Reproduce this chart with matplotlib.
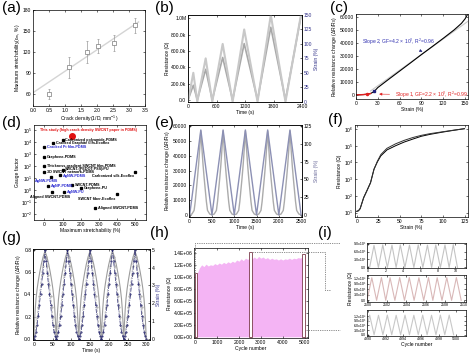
import matplotlib
matplotlib.use("Agg")
import matplotlib.pyplot as plt
import numpy as np
from matplotlib.lines import Line2D
from matplotlib.patches import Rectangle

plt.rcParams["font.family"] = ["Liberation Sans", "DejaVu Sans"]
plt.rcParams["mathtext.default"] = "regular"

# ── (a) crack density vs stretchability ───────────────────────────
crack_density = [0.5, 1.12, 1.68, 2.03, 2.54, 3.2]
max_strain = [60, 98, 120, 128, 133, 158]
max_strain_err = [7, 15, 16, 10, 12, 11]
fit_a_x = [0.0, 3.3]
fit_a_y = [62, 163]

# ── (b) stepwise cycling ──────────────────────────────────────────
b_time = [0, 112, 196, 372, 511, 730, 939, 1183, 1464, 1743, 2052, 2380]
b_strain = [0, 50, 0, 75, 0, 100, 0, 125, 0, 150, 0, 151]
b_res = [0, 0.18e6, 0, 0.375e6, 0, 0.52e6, 0, 0.69e6, 0, 0.89e6, 0, 1.03e6]
b_ytick_labels = ["0.0", "200.0k", "400.0k", "600.0k", "800.0k", "1.0M"]

# ── (c) dR/R0 vs strain ───────────────────────────────────────────
c_strain = [0, 5, 10, 15, 20, 25, 30, 45, 60, 75, 90, 105, 120, 135, 145, 150, 153]
c_drr = [0, 60, 200, 450, 1000, 2600, 5600, 12000, 18300, 24600, 31000,
         37200, 43500, 50000, 55000, 58500, 61500]
c_fit2_x = [20, 155]
c_fit2_y = [3000, 57000]

# ── (d) gauge factor vs stretchability (literature) ───────────────
d_names = ["Carbonized polyamide-PDMS", "Cracked Graphite film-Ecoflex",
           "Cracked Pt film-PDMS", "Graphene-PDMS",
           "Thickness-gradient SWCNT film-PDMS", "SWCNT-(PEDOT:PSS)/PU",
           "3D SWCNT network-PDMS", "Carbonized silk-Ecoflex", "AgNW-PDMS",
           "AgNW-PDMS", "AgNP-PDMS", "SWCNT-PDMS", "Graphene-PU", "AgNW-PU",
           "Aligned SWCNT-PDMS", "SWCNT fiber-Ecoflex", "Aligned SWCNT-PDMS"]
d_stretch = [100, 50, 0, 0, 0, 100, 0, 500, 87, 36, 20, 150, 200, 110, 40, 400, 280]
d_gf = [1.55e4, 8.3e3, 4.0e3, 630, 112, 50, 32, 37, 19, 14, 2.1, 3.0, 1.6,
        0.72, 0.72, 0.5, 0.035]
d_metal = [0, 0, 1, 0, 0, 0, 0, 0, 1, 1, 1, 0, 0, 1, 0, 0, 0]
this_stretch = 150
this_gf = 3.2e4

# ── (e) cycling to 120 % ──────────────────────────────────────────
e_cycle_start = [0, 500, 1000, 1500, 2000]
e_half_t = [0, 50, 100, 125, 150, 175, 200, 225, 250]
e_half_drr = [0, 500, 3000, 9000, 17000, 25000, 34000, 45000, 57000]
e_strain_time = [0, 250, 500, 750, 1000, 1250, 1500, 1750, 2000, 2250, 2500]
e_strain = [0, 120, 0, 120, 0, 120, 0, 120, 0, 120, 0]

# ── (f) resistance vs strain, log ─────────────────────────────────
f_strain = [0, 2, 4, 8, 12, 16, 20, 24, 28, 35, 45, 55, 65, 75, 85, 100, 112, 125]
f_res_1 = [12, 13, 18, 80, 220, 630, 4000, 11000, 25000, 56000, 100000,
           166000, 250000, 370000, 480000, 660000, 830000, 1.05e6]
f_res_2 = [12, 13, 17, 75, 210, 600, 3800, 12000, 30000, 70000, 130000,
           210000, 310000, 420000, 530000, 690000, 850000, 1.05e6]

# ── (g) small strain cycling ──────────────────────────────────────
g_cycle_start = [0, 60, 120, 180, 240]
g_half_t = [0, 2, 4, 6, 9, 12, 16, 20, 25, 30]
g_half_drr = [0, 0.15, 0.27, 0.36, 0.45, 0.52, 0.6, 0.67, 0.74, 0.79]
g_half_t2 = [0, 3, 6, 9, 12, 15, 18, 21, 24, 27, 30]
g_half_strain = [0, 0.15, 0.4, 0.8, 1.3, 1.9, 2.5, 3.1, 3.7, 4.35, 5.0]
g_half_mid = [0, 0.3, 0.7, 1.2, 1.8, 2.4, 3.0, 3.6, 4.1, 4.6, 5.0]

# ── (h) 5000 cycles ───────────────────────────────────────────────
h_cycles = list(range(100, 5001, 100))
h_env = [1.06, 1.15, 1.20, 1.17, 1.21, 1.18, 1.20, 1.19, 1.22, 1.20,
         1.23, 1.21, 1.24, 1.22, 1.25, 1.23, 1.26, 1.24, 1.28, 1.26,
         1.30, 1.27, 1.31, 1.29, 1.32, 1.30, 1.33, 1.30, 1.34, 1.31,
         1.33, 1.30, 1.32, 1.29, 1.31, 1.29, 1.30, 1.28, 1.30, 1.28,
         1.30, 1.29, 1.31, 1.29, 1.31, 1.30, 1.32, 1.31, 1.33, 1.32]
h_boxes = [(0, 100, 1.07e6), (2450, 2600, 1.42e6), (4880, 5020, 1.38e6)]
h_ytick_labels = ["0.0E+00", "2.0E+05", "4.0E+05", "6.0E+05", "8.0E+05",
                  "1.0E+06", "1.2E+06", "1.4E+06"]

# ── (i) zoomed cycles ─────────────────────────────────────────────
i1_peak_x = [0.7, 1.7, 2.75, 3.7, 4.75, 5.75, 6.8, 7.75, 8.8, 9.75]
i1_peak_y = [8.3e5, 8.5e5, 8.4e5, 8.5e5, 8.4e5, 8.5e5, 8.4e5, 8.5e5, 8.5e5, 8.6e5]
i2_peak_x = [2500.4, 2501.4, 2502.3, 2503.3, 2504.3, 2505.3, 2506.3, 2507.2, 2508.2, 2509.2]
i2_peak_y = [1.24e6, 1.25e6, 1.24e6, 1.25e6, 1.25e6, 1.24e6, 1.25e6, 1.24e6, 1.25e6, 1.25e6]
i3_peak_x = [4990.2, 4991.2, 4992.2, 4993.2, 4994.2, 4995.2, 4996.2, 4997.2, 4998.2, 4999.2]
i3_peak_y = [1.27e6, 1.26e6, 1.27e6, 1.26e6, 1.27e6, 1.26e6, 1.27e6, 1.26e6, 1.27e6, 1.27e6]
i1_ytick_labels = ["0.0", "3.0x10⁵", "6.0x10⁵", "9.0x10⁵"]
i23_ytick_labels = ["0.0", "3.0x10⁵", "6.0x10⁵", "9.0x10⁵", "1.2x10⁶"]

W, H = 474, 355
TS = 3.6
BLUE = "#34348a"
fig = plt.figure(figsize=(W / 100, H / 100), dpi=100)


def px_axes(l, t, r, b):
    return fig.add_axes([l / W, 1 - b / H, (r - l) / W, (b - t) / H])


def style(ax, top=True, right=True, size=TS):
    ax.tick_params(direction="in", length=1.5, width=0.4, labelsize=size,
                   pad=1.2, top=top, right=right)
    for s in ax.spines.values():
        s.set_linewidth(0.5)


def cycles(starts, half_t, half_v):
    t, v = [], []
    span = 2 * half_t[-1]
    for s in starts:
        t += [s + x for x in half_t] + [s + span - x for x in half_t[-2::-1]]
        v += list(half_v) + list(half_v[-2::-1])
    return t, v


def peaks_to_wave(px, py):
    xs, ys = [px[0] - (px[1] - px[0]) / 2], [0]
    for k in range(len(px)):
        xs.append(px[k]); ys.append(py[k])
        nxt = px[k + 1] if k + 1 < len(px) else px[k] + (px[k] - px[k - 1])
        xs.append((px[k] + nxt) / 2); ys.append(0)
    return xs, ys


def panel(x, y, s):
    fig.text(x / W, 1 - y / H, s, fontsize=11, va="top", ha="left")


# (a)
ax = px_axes(33, 10, 145, 106)
ax.plot(fit_a_x, fit_a_y, color="#d4d4d4", lw=1.0)
ax.errorbar(crack_density, max_strain, yerr=max_strain_err, fmt="s", ms=3,
            mfc="white", mec="#7a7a7a", mew=0.5, ecolor="#9a9a9a",
            elinewidth=0.5, capsize=1)
ax.set_xlim(0, 3.5)
ax.set_ylim(43, 180)
ax.set_xticks(np.arange(0, 3.6, 0.5))
ax.set_yticks([60, 90, 120, 150, 180])
ax.set_xlabel("Crack density(1/D, mm$^{-1}$)", fontsize=TS, labelpad=1)
ax.set_ylabel("Maximum stretchability(ε$_m$, %)", fontsize=TS, labelpad=1)
style(ax)
panel(2, 1, "(a)")

# (b)
ax = px_axes(188, 15, 302, 102)
ax.plot(b_time, b_res, color="#a8a8a8", lw=1.2)
ax2 = ax.twinx()
ax2.plot(b_time, b_strain, color="#c8c8c8", lw=1.5)
ax.set_xlim(0, 2400)
ax.set_ylim(-0.025e6, 1.04e6)
ax2.set_ylim(-0.5, 150)
ax.set_xticks([0, 600, 1200, 1800, 2400])
ax.set_yticks([0, 2e5, 4e5, 6e5, 8e5, 1e6])
ax.set_yticklabels(b_ytick_labels)
ax2.set_yticks([0, 25, 50, 75, 100, 125, 150])
ax.set_xlabel("Time (s)", fontsize=TS, labelpad=1)
ax.set_ylabel("Resistance (Ω)", fontsize=TS, labelpad=1)
ax2.set_ylabel("Strain (%)", fontsize=TS, color=BLUE, labelpad=1)
style(ax, right=False)
style(ax2, top=False)
ax2.tick_params(axis="y", labelcolor=BLUE)
panel(155, 1, "(b)")

# (c)
ax = px_axes(356, 14, 468, 99)
ax.plot(c_fit2_x, c_fit2_y, color="#c8c8c8", lw=0.8)
ax.plot(c_strain, c_drr, color="black", lw=0.8)
ax.plot(c_strain[:5], c_drr[:5], color="#e02020", lw=1.0)
ax.plot([c_strain[3]], [c_drr[3]], "o", color="#e02020", ms=1.5)
ax.plot([c_strain[5]], [c_drr[5]], "s", color="#20207a", ms=1.5)
ax.annotate("Slope 2, GF=4.2 × 10$^2$, R$^2$=0.96", xy=(95, 32500),
            xytext=(58, 40500), fontsize=TS, color="#3030b0", ha="center",
            va="center", arrowprops=dict(arrowstyle="-|>", color="#20207a",
                                         lw=0.4, mutation_scale=4))
ax.annotate("Slope 1, GF=2.2 × 10$^2$, R$^2$=0.99", xy=(28, 600),
            xytext=(104, 0), fontsize=TS, color="#e02020", ha="center",
            va="center", arrowprops=dict(arrowstyle="-|>", color="#e02020",
                                         lw=0.4, mutation_scale=4))
ax.set_xlim(0, 154)
ax.set_ylim(-3200, 62200)
ax.set_xticks([0, 30, 60, 90, 120, 150])
ax.set_yticks(np.arange(0, 60001, 10000))
ax.set_xlabel("Strain (%)", fontsize=TS, labelpad=1)
ax.set_ylabel("Relative resistance change (ΔR/R$_0$)", fontsize=TS, labelpad=1)
style(ax)
panel(330, 1, "(c)")

# (d)
ax = px_axes(34, 125, 146, 220)
d_label_place = [(2, 0, "left"), (2, 0, "left"), (2, 0, "left"),
                 (2, 0, "left"), (2, 0, "left"), (2, 1.0, "left"),
                 (2, 0, "left"), (-1, -3, "right"), (2, -1.0, "left"),
                 (5, -3.5, "right"), (2, 0, "left"), (2, 0, "left"),
                 (2, 0, "left"), (2, 0, "left"), (-1, -3.5, "center"),
                 (-1, -3.5, "right"), (2, 0, "left")]
for k in range(len(d_names)):
    ax.plot(d_stretch[k], d_gf[k], "s", color="black", ms=1.4)
    dx, dy, ha = d_label_place[k]
    ax.annotate(d_names[k], (d_stretch[k], d_gf[k]), xytext=(dx, dy),
                textcoords="offset points", fontsize=2.7, fontweight="bold",
                ha=ha, va="center", color="#2a2ad0" if d_metal[k] else "black")
ax.plot(this_stretch, this_gf, "o", color="#e01010", ms=4)
ax.text(240, 1.0e5, "This study (high crack density SWCNT paper in PDMS)",
        fontsize=2.7, fontweight="bold", color="#e01010", ha="center", va="center")
ax.set_yscale("log")
ax.set_xlim(-57, 558)
ax.set_ylim(10 ** -2.47, 10 ** 5.44)
ax.set_xticks([0, 100, 200, 300, 400, 500])
ax.set_yticks([10.0 ** p for p in range(-2, 6)])
ax.minorticks_off()
ax.set_xlabel("Maximum stretchability (%)", fontsize=TS, labelpad=1)
ax.set_ylabel("Gauge factor", fontsize=TS, labelpad=1)
style(ax)
panel(2, 116, "(d)")

# (e)
ax = px_axes(189, 125, 302, 217)
e_t, e_v = cycles(e_cycle_start, e_half_t, e_half_drr)
ax.plot(e_t, e_v, color="#ababab", lw=1.0)
ax2 = ax.twinx()
ax2.plot(e_strain_time, e_strain, color="#8c90b4", lw=1.0)
ax.set_xlim(-15, 2520)
ax.set_ylim(-1500, 61000)
ax2.set_ylim(-3, 127)
ax.set_xticks([0, 500, 1000, 1500, 2000, 2500])
ax.set_yticks(np.arange(0, 60001, 10000))
ax2.set_yticks([0, 25, 50, 75, 100, 125])
ax.set_xlabel("Time (s)", fontsize=TS, labelpad=1)
ax.set_ylabel("Relative resistance change (ΔR/R$_0$)", fontsize=TS, labelpad=1)
ax2.set_ylabel("Strain (%)", fontsize=TS, color="#6a6a9a", labelpad=1)
style(ax, right=False)
style(ax2, top=False)
panel(155, 116, "(e)")

# (f)
ax = px_axes(355, 125, 468, 217)
ax.plot(f_strain, f_res_1, color="black", lw=0.7)
ax.plot(f_strain, f_res_2, color="#333333", lw=0.7)
ax.set_yscale("log")
ax.set_xlim(-2, 129)
ax.set_ylim(5.5, 1.74e6)
ax.set_xticks([0, 25, 50, 75, 100, 125])
ax.set_yticks([10.0 ** p for p in range(1, 7)])
ax.minorticks_off()
ax.set_xlabel("Strain (%)", fontsize=TS, labelpad=1)
ax.set_ylabel("Resistance (Ω)", fontsize=TS, labelpad=1)
style(ax)
panel(328, 113, "(f)")

# (g)
ax = px_axes(33, 249, 150, 340)
g_t, g_v = cycles(g_cycle_start, g_half_t, g_half_drr)
ax.plot(g_t, g_v, color="#9c9c9c", lw=0.8)
ax2 = ax.twinx()
g_t2, g_s = cycles(g_cycle_start, g_half_t2, g_half_strain)
g_t3, g_m = cycles(g_cycle_start, g_half_t2, g_half_mid)
ax2.plot(g_t3, g_m, color="#b0b0b0", lw=0.5, ls="--", marker=".", ms=1.2)
ax2.plot(g_t2, g_s, color="#2a2a70", lw=0.5, ls="-.", marker=".", ms=1.0)
ax.set_xlim(-2, 310)
ax.set_ylim(-0.012, 0.81)
ax2.set_ylim(-0.07, 5.05)
ax.set_xticks([0, 50, 100, 150, 200, 250, 300])
ax.set_yticks([0.0, 0.2, 0.4, 0.6, 0.8])
ax2.set_yticks([0, 1, 2, 3, 4, 5])
ax.set_xlabel("Time (s)", fontsize=TS, labelpad=1)
ax.set_ylabel("Relative resistance change (ΔR/R$_0$)", fontsize=TS, labelpad=1)
ax2.set_ylabel("Strain (%)", fontsize=TS, color=BLUE, labelpad=1)
style(ax, right=False)
style(ax2, top=False)
panel(2, 231, "(g)")

# (h)
ax = px_axes(194, 248, 308, 338)
ax.fill_between(h_cycles, 0, [v * 1e6 for v in h_env], color="#f4b4f4", lw=0)
for x0, x1, top in h_boxes:
    ax.add_patch(Rectangle((x0, 0), x1 - x0, top, fc="white", ec="#7a3a4a",
                           lw=0.6, zorder=3))
ax.set_xlim(-50, 5150)
ax.set_ylim(-0.02e6, 1.48e6)
ax.set_xticks([0, 1000, 2000, 3000, 4000, 5000])
ax.set_yticks(np.arange(0, 1.41e6, 2e5))
ax.set_yticklabels(h_ytick_labels)
ax.set_xlabel("Cycle number", fontsize=TS, labelpad=1)
ax.set_ylabel("Resistance (Ω)", fontsize=TS, labelpad=1)
style(ax)
panel(150, 226, "(h)")

# (i)
i_specs = [((367, 243, 466, 268), i1_peak_x, i1_peak_y, (-0.1, 11.2),
            (-0.2e5, 9.2e5), [0, 2, 4, 6, 8, 10], i1_ytick_labels, "#c4c4c4"),
           ((367, 275, 466, 302), i2_peak_x, i2_peak_y, (2499.9, 2510.2),
            (-0.09e6, 1.39e6), [2500, 2502, 2504, 2506, 2508, 2510],
            i23_ytick_labels, "#d9b8b8"),
           ((367, 310, 466, 336), i3_peak_x, i3_peak_y, (4989.9, 5001.1),
            (-0.08e6, 1.6e6), [4990, 4992, 4994, 4996, 4998, 5000],
            i23_ytick_labels, "#c8c8c8")]
for n, (rect, px, py, xl, yl, xt, ytl, col) in enumerate(i_specs):
    ax = px_axes(*rect)
    wx, wy = peaks_to_wave(px, py)
    ax.plot(wx, wy, color=col, lw=0.8)
    ax.set_xlim(*xl)
    ax.set_ylim(*yl)
    ax.set_xticks(xt)
    ax.set_yticks([0, 3e5, 6e5, 9e5, 1.2e6][:len(ytl)])
    ax.set_yticklabels(ytl)
    style(ax, size=2.6)
    ax.tick_params(pad=0.8)
    if n == 1:
        ax.set_ylabel("Resistance (Ω)", fontsize=TS, labelpad=0.5)
    if n == 2:
        ax.set_xlabel("Cycle number", fontsize=TS, labelpad=0.5)
panel(318, 226, "(i)")

# dashed connectors from (h) boxes to (i)
for pts in [[(195, 273), (195, 243), (340, 243)],
            [(252, 252), (325, 252), (325, 290), (330, 290)],
            [(306, 330), (340, 330)]]:
    xs = [p[0] / W for p in pts]
    ys = [1 - p[1] / H for p in pts]
    fig.add_artist(Line2D(xs, ys, transform=fig.transFigure, color="#808080",
                          lw=0.6, ls=(0, (1.5, 1.2))))

fig.savefig("out.png", dpi=100)
